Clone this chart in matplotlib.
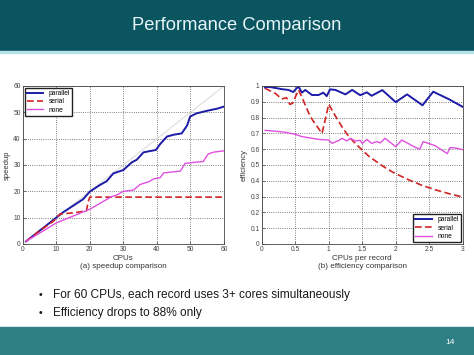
import numpy as np
import matplotlib
matplotlib.use('Agg')
import matplotlib.pyplot as plt
from matplotlib.patches import Rectangle

plt.rcParams['font.family'] = ['Liberation Sans', 'DejaVu Sans']

# (a) speedup vs CPUs
par_x = [1, 5, 10, 12, 15, 18, 20, 23, 25, 27, 30, 32.5, 34, 36, 38, 39.7, 41, 43, 45, 47.4, 49, 49.9, 51.8, 55, 58, 60]
par_y = [1, 5, 10, 12, 14.5, 17, 19.9, 22.4, 23.8, 26.8, 28.1, 31, 32, 34.8, 35.3, 35.7, 38, 40.8, 41.5, 42, 45, 48.4, 49.6, 50.6, 51.4, 52.2]

ser_x = [1, 5, 9, 10, 11, 12, 15, 18, 19, 19.5, 20, 30, 40, 50, 60]
ser_y = [1, 5, 8.5, 9.8, 11.3, 11.5, 11.8, 12.4, 12.6, 16, 17.8, 17.8, 17.8, 17.8, 17.8]

non_x = [1, 10, 20, 23, 26.5, 28, 30, 33, 35, 37.7, 39, 41, 42, 45, 47, 48.4, 51, 53.8, 55.3, 57, 60]
non_y = [1, 8, 13.2, 15.4, 18, 18.6, 20, 20.5, 22.6, 23.7, 24.7, 25.2, 27, 27.4, 27.7, 30.6, 31, 31.3, 34.2, 34.9, 35.4]

ideal = [0, 60]

# (b) efficiency vs CPUs per record
eff_par_x = [0.05, 0.1, 0.2, 0.3, 0.4, 0.47, 0.52, 0.55, 0.6, 0.65, 0.75, 0.85, 0.92, 0.97, 1.02, 1.1, 1.25, 1.35,
             1.47, 1.57, 1.64, 1.8, 2.0, 2.17, 2.4, 2.56, 2.8, 3.0]
eff_par_y = [0.99, 0.995, 0.988, 0.98, 0.975, 0.962, 0.985, 0.996, 0.958, 0.975, 0.943, 0.943, 0.958, 0.936, 0.979,
             0.975, 0.947, 0.975, 0.942, 0.96, 0.938, 0.974, 0.898, 0.947, 0.878, 0.964, 0.915, 0.868]

eff_ser_x = [0.05, 0.1, 0.2, 0.3, 0.37, 0.42, 0.46, 0.55, 0.6, 0.65, 0.7, 0.75, 0.8, 0.85, 0.9, 0.95, 1.0,
             1.1, 1.2, 1.3, 1.4, 1.5, 1.6, 1.7, 1.8, 1.9, 2.0, 2.2, 2.4, 2.6, 2.8, 3.0]
eff_ser_y = [0.985, 0.975, 0.954, 0.918, 0.926, 0.884, 0.89, 0.975, 0.93, 0.88, 0.83, 0.79, 0.76, 0.73, 0.70, 0.79, 0.885,
             0.81, 0.74, 0.68, 0.635, 0.595, 0.555, 0.525, 0.495, 0.468, 0.445, 0.405, 0.37, 0.342, 0.318, 0.297]

eff_non_x = [0.05, 0.2, 0.35, 0.5, 0.6, 0.85, 1.0, 1.05, 1.15, 1.2, 1.27, 1.32, 1.4, 1.47, 1.5, 1.57, 1.64, 1.72,
             1.77, 1.84, 2.0, 2.09, 2.3, 2.36, 2.41, 2.59, 2.77, 2.81, 2.89, 3.0]
eff_non_y = [0.719, 0.714, 0.707, 0.694, 0.68, 0.662, 0.658, 0.637, 0.655, 0.669, 0.652, 0.669, 0.652, 0.656, 0.637,
             0.662, 0.637, 0.648, 0.64, 0.669, 0.616, 0.658, 0.61, 0.601, 0.648, 0.622, 0.572, 0.61, 0.608, 0.597]

c_par = '#1c1ca8'
c_ser = '#d02424'
c_non = '#e050e0'

fig = plt.figure(figsize=(4.74, 3.55), dpi=100)
fig.patch.set_facecolor('white')

# slide header and footer bands
fig.patches.append(Rectangle((0, 1 - 51 / 355), 1, 51 / 355, transform=fig.transFigure, color='#0b5561', zorder=0))
fig.patches.append(Rectangle((0, 1 - 53 / 355), 1, 2 / 355, transform=fig.transFigure, color='#b4e2e6', zorder=0))
fig.patches.append(Rectangle((0, 0), 1, 28 / 355, transform=fig.transFigure, color='#2f7f86', zorder=0))
fig.text(0.5, 1 - 26 / 355, 'Performance Comparison', ha='center', va='center', color='#e6f6f8', fontsize=13.2)
fig.text(39 / 474, 1 - 295 / 355, '•', ha='left', va='center', fontsize=7.5, color='#1a1a1a')
fig.text(53 / 474, 1 - 295 / 355, 'For 60 CPUs, each record uses 3+ cores simultaneously', ha='left', va='center',
         fontsize=8.6, color='#1a1a1a')
fig.text(39 / 474, 1 - 313 / 355, '•', ha='left', va='center', fontsize=7.5, color='#1a1a1a')
fig.text(53 / 474, 1 - 313 / 355, 'Efficiency drops to 88% only', ha='left', va='center', fontsize=8.6, color='#1a1a1a')
fig.text(450 / 474, 1 - 343 / 355, '14', ha='center', va='center', fontsize=6, color='white')


def style(ax):
    ax.grid(True, linestyle=':', color='#555555', linewidth=0.6)
    ax.tick_params(direction='in', labelsize=4.8, length=2, width=0.5, colors='#444444', pad=1.5)
    for s in ax.spines.values():
        s.set_color('#444444')
        s.set_linewidth(0.6)


ax1 = fig.add_axes([22.7 / 474, 111 / 355, 201.3 / 474, 158 / 355])
ax1.plot(ideal, ideal, color='#dddddd', linewidth=0.8)
ax1.plot(par_x, par_y, color=c_par, linewidth=1.4, label='parallel')
ax1.plot(ser_x, ser_y, color=c_ser, linewidth=1.2, linestyle=(0, (4, 2)), label='serial')
ax1.plot(non_x, non_y, color=c_non, linewidth=1.0, label='none')
ax1.set_xlim(0, 60)
ax1.set_ylim(0, 60)
ax1.set_xticks(np.arange(0, 61, 10))
ax1.set_yticks(np.arange(0, 61, 10))
style(ax1)
ax1.set_xlabel('CPUs\n(a) speedup comparison', fontsize=5.8, color='#333333', labelpad=1.5, linespacing=1.1)
ax1.set_ylabel('speedup', fontsize=5.5, color='#333333', labelpad=2)
ax1.legend(loc='upper left', fontsize=4.8, frameon=True, fancybox=False, edgecolor='#222222', framealpha=1,
           handlelength=2.5, borderpad=0.3, labelspacing=0.2, borderaxespad=0.3)

ax2 = fig.add_axes([261.7 / 474, 111 / 355, 201 / 474, 158 / 355])
ax2.plot(eff_par_x, eff_par_y, color=c_par, linewidth=1.4, label='parallel')
ax2.plot(eff_ser_x, eff_ser_y, color=c_ser, linewidth=1.2, linestyle=(0, (4, 2)), label='serial')
ax2.plot(eff_non_x, eff_non_y, color=c_non, linewidth=1.0, label='none')
ax2.set_xlim(0, 3)
ax2.set_ylim(0, 1)
ax2.set_xticks(np.arange(0, 3.01, 0.5))
ax2.set_xticklabels(['0', '0.5', '1', '1.5', '2', '2.5', '3'])
ax2.set_yticks(np.arange(0, 1.01, 0.1))
ax2.set_yticklabels(['0'] + ['%.1f' % v for v in np.arange(0.1, 0.95, 0.1)] + ['1'])
style(ax2)
ax2.set_xlabel('CPUs per record\n(b) efficiency comparison', fontsize=5.8, color='#333333', labelpad=1.5,
               linespacing=1.1)
ax2.set_ylabel('efficiency', fontsize=5.5, color='#333333', labelpad=2)
ax2.legend(loc='lower right', fontsize=4.8, frameon=True, fancybox=False, edgecolor='#222222', framealpha=1,
           handlelength=2.5, borderpad=0.3, labelspacing=0.2, borderaxespad=0.3)

fig.savefig('out.png', dpi=100)
